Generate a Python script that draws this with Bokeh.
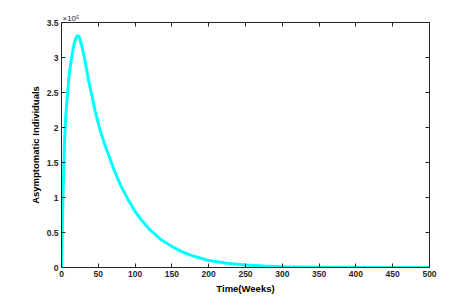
from bokeh.plotting import figure
from bokeh.models import Range1d, LinearAxis, FixedTicker, CustomJSTickFormatter
from bokeh.embed import file_html
from bokeh.resources import INLINE

# Data (weeks, individuals)
weeks = [0, 1, 2, 3, 4, 5, 6, 8, 10, 12, 15, 18, 21, 24, 28, 32, 37, 42, 46, 52, 58,
         65, 72, 80, 90, 100, 110, 120, 135, 150, 165, 180, 200, 225, 250, 275, 300,
         350, 400, 450, 500]
asymptomatic = [0, 50000, 100000, 140000, 175000, 200000, 220000, 245000, 270000,
                288000, 308000, 323000, 331000, 330000, 315000, 295000, 266000,
                242000, 222000, 198000, 178000, 158000, 138000, 118000, 98000,
                80000, 66000, 54000, 40000, 30000, 22000, 16000, 10000, 6000, 3500,
                2000, 1200, 500, 200, 100, 50]
x_ticks = [0, 50, 100, 150, 200, 250, 300, 350, 400, 450, 500]
y_ticks = [0, 50000, 100000, 150000, 200000, 250000, 300000, 350000]

FONT = "Liberation Sans"
AX = "#262626"

p = figure(width=474, height=299, output_backend="svg", toolbar_location=None,
           x_range=Range1d(0, 500), y_range=Range1d(0, 350000),
           min_border_left=61, min_border_right=45, min_border_top=22,
           min_border_bottom=32, title="×10⁵")
p.title.text_font = FONT
p.title.text_font_size = "8px"
p.title.text_font_style = "normal"
p.title.text_color = "#262626"
p.title.align = "left"
p.title.offset = 1
p.title.standoff = 0
p.background_fill_color = "white"
p.border_fill_color = "white"
p.outline_line_color = None
p.grid.visible = False

p.line(weeks, asymptomatic, line_color="#00FFFF", line_width=3)

def style(ax, labels=True):
    ax.axis_line_color = AX
    ax.axis_line_width = 1
    ax.major_tick_in = 4
    ax.major_tick_out = 0
    ax.minor_tick_line_color = None
    ax.major_tick_line_color = AX
    ax.major_label_text_font = FONT
    ax.major_label_text_font_size = "8.5px"
    ax.major_label_text_font_style = "bold"
    ax.major_label_text_color = "#262626"
    ax.major_label_standoff = 3
    if not labels:
        ax.major_label_text_font_size = "0px"
        ax.major_label_text_color = None

xa = p.xaxis[0]
ya = p.yaxis[0]
xa.ticker = FixedTicker(ticks=x_ticks)
ya.ticker = FixedTicker(ticks=y_ticks)
ya.formatter = CustomJSTickFormatter(code="return String(Math.round(tick/1e5*10)/10);")
style(xa)
style(ya)
xa.axis_label = "Time(Weeks)"
ya.axis_label = "Asymptomatic Individuals"
for ax in (xa, ya):
    ax.axis_label_text_font = FONT
    ax.axis_label_text_font_size = "9.5px"
    ax.axis_label_text_font_style = "bold"
    ax.axis_label_text_color = "black"
    ax.axis_label_standoff = 3

top = LinearAxis(ticker=FixedTicker(ticks=x_ticks))
right = LinearAxis(ticker=FixedTicker(ticks=y_ticks))
style(top, labels=False)
style(right, labels=False)
top.major_label_standoff = 0
right.major_label_standoff = 0
p.add_layout(top, "above")
p.add_layout(right, "right")

open("out.html", "w").write(file_html(p, INLINE))
